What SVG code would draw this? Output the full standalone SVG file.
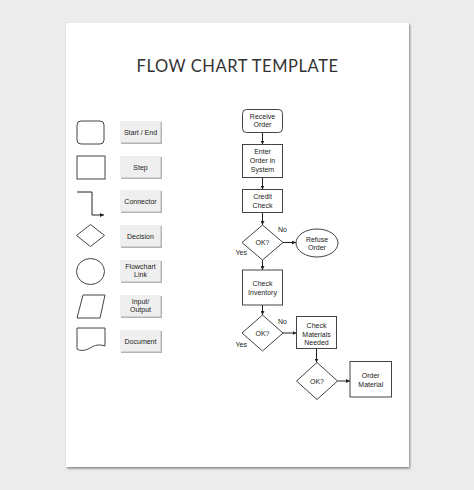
<svg xmlns="http://www.w3.org/2000/svg" width="474" height="490" viewBox="0 0 474 490">
<defs>
<marker id="arr" viewBox="0 0 6 6" refX="6" refY="3" markerWidth="4" markerHeight="4" markerUnits="userSpaceOnUse" orient="auto">
<path d="M0,0 L6,3 L0,6 Z" fill="#222"/>
</marker>
<filter id="sh" x="-5%" y="-5%" width="110%" height="110%">
<feDropShadow dx="1" dy="1.5" stdDeviation="1" flood-color="#555" flood-opacity="0.7"/>
</filter>
</defs>
<style>
.shape{fill:#fff;stroke:#444;stroke-width:1}
.lbl{fill:#efefef}
.lsh{fill:#b4b4b4}
.t{font-family:"Liberation Sans",Arial,sans-serif;font-size:7px;fill:#222;text-anchor:middle}
.tl{font-family:"Liberation Sans",Arial,sans-serif;font-size:7px;fill:#222}
.ln{stroke:#222;stroke-width:1;fill:none}
.title{font-family:Lato,"Open Sans",sans-serif;font-size:16.5px;fill:#333;text-anchor:middle;letter-spacing:1.5px}
</style>
<rect x="0" y="0" width="474" height="490" fill="#ececec"/>
<rect id="page" x="66" y="23" width="343" height="444" fill="#fff" filter="url(#sh)"/>
<text class="title" x="238" y="72" textLength="203" lengthAdjust="spacing">FLOW CHART TEMPLATE</text>

<g id="legend">
<g id="leg-startend">
<rect class="shape" x="77" y="121" width="27" height="23" rx="4"/>
<rect class="lsh" x="121" y="122" width="41" height="22"/>
<rect class="lbl" x="120" y="121" width="40.5" height="21.5"/>
<text class="t" x="140.5" y="134.5">Start / End</text>
</g>
<g id="leg-step">
<rect class="shape" x="77" y="156" width="28" height="23"/>
<rect class="lsh" x="121" y="157" width="41" height="22"/>
<rect class="lbl" x="120" y="156" width="40.5" height="21.5"/>
<text class="t" x="140.5" y="169.5">Step</text>
</g>
<g id="leg-connector">
<path class="ln" d="M77,192 H92 V215 H104" marker-end="url(#arr)"/>
<rect class="lsh" x="121" y="191" width="41" height="22"/>
<rect class="lbl" x="120" y="190" width="40.5" height="21.5"/>
<text class="t" x="140.5" y="203.5">Connector</text>
</g>
<g id="leg-decision">
<polygon class="shape" points="76.5,235.5 90.5,224.5 104.5,235.5 90.5,246.5"/>
<rect class="lsh" x="121" y="226" width="41" height="22"/>
<rect class="lbl" x="120" y="225" width="40.5" height="21.5"/>
<text class="t" x="140.5" y="238.5">Decision</text>
</g>
<g id="leg-link">
<ellipse class="shape" cx="90.5" cy="271.5" rx="14" ry="13"/>
<rect class="lsh" x="121" y="261" width="41" height="22"/>
<rect class="lbl" x="120" y="260" width="40.5" height="21.5"/>
<text class="t" x="140.5" y="269">Flowchart</text>
<text class="t" x="140.5" y="277">Link</text>
</g>
<g id="leg-io">
<polygon class="shape" points="83,295 105,295 100,318 77,318"/>
<rect class="lsh" x="121" y="296" width="41" height="22"/>
<rect class="lbl" x="120" y="295" width="40.5" height="21.5"/>
<text class="t" x="140.5" y="304">Input/</text>
<text class="t" x="140.5" y="312">Output</text>
</g>
<g id="leg-document">
<path class="shape" d="M77,328 H105 V346 C99,344 95,345 90,348 C85,351 80,351 77,349 Z"/>
<rect class="lsh" x="121" y="331" width="41" height="22"/>
<rect class="lbl" x="120" y="330" width="40.5" height="21.5"/>
<text class="t" x="140.5" y="343.5">Document</text>
</g>
</g>

<g id="connectors">
<line class="ln" x1="262.5" y1="132.5" x2="262.5" y2="144.5" marker-end="url(#arr)"/>
<line class="ln" x1="262.5" y1="177.5" x2="262.5" y2="189.5" marker-end="url(#arr)"/>
<line class="ln" x1="262.5" y1="212.5" x2="262.5" y2="225" marker-end="url(#arr)"/>
<line class="ln" x1="283" y1="242.5" x2="296" y2="242.5" marker-end="url(#arr)"/>
<line class="ln" x1="262.5" y1="260" x2="262.5" y2="270" marker-end="url(#arr)"/>
<line class="ln" x1="262.5" y1="305" x2="262.5" y2="315" marker-end="url(#arr)"/>
<line class="ln" x1="283" y1="333" x2="296.5" y2="333" marker-end="url(#arr)"/>
<line class="ln" x1="316.5" y1="348.5" x2="316.5" y2="362.5" marker-end="url(#arr)"/>
<line class="ln" x1="337.5" y1="381" x2="350" y2="381" marker-end="url(#arr)"/>
<text class="tl" x="278" y="231.5">No</text>
<text class="tl" x="235.5" y="255">Yes</text>
<text class="tl" x="278" y="324">No</text>
<text class="tl" x="235.5" y="346.5">Yes</text>
</g>

<g id="receive-order">
<rect class="shape" x="242.5" y="109.5" width="40" height="23" rx="4"/>
<text class="t" x="262.5" y="118.5">Receive</text>
<text class="t" x="262.5" y="127">Order</text>
</g>
<g id="enter-order">
<rect class="shape" x="242.5" y="144.5" width="40" height="33"/>
<text class="t" x="262.5" y="154">Enter</text>
<text class="t" x="262.5" y="162.5">Order in</text>
<text class="t" x="262.5" y="171.5">System</text>
</g>
<g id="credit-check">
<rect class="shape" x="242.5" y="189.5" width="40" height="23"/>
<text class="t" x="262.5" y="199">Credit</text>
<text class="t" x="262.5" y="207.5">Check</text>
</g>
<g id="ok1">
<polygon class="shape" points="242,242.5 262.5,225 283,242.5 262.5,260"/>
<text class="t" x="262.5" y="245">OK?</text>
</g>
<g id="refuse-order">
<ellipse class="shape" cx="317" cy="243" rx="21" ry="14"/>
<text class="t" x="317" y="241.5">Refuse</text>
<text class="t" x="317" y="249.5">Order</text>
</g>
<g id="check-inventory">
<rect class="shape" x="242.5" y="270" width="40" height="35"/>
<text class="t" x="262.5" y="286">Check</text>
<text class="t" x="262.5" y="294.5">Inventory</text>
</g>
<g id="ok2">
<polygon class="shape" points="242,333 262.5,315 283,333 262.5,351"/>
<text class="t" x="262.5" y="335.5">OK?</text>
</g>
<g id="check-materials">
<rect class="shape" x="296.5" y="316.5" width="40" height="32"/>
<text class="t" x="316.5" y="327.5">Check</text>
<text class="t" x="316.5" y="336.5">Materials</text>
<text class="t" x="316.5" y="345">Needed</text>
</g>
<g id="ok3">
<polygon class="shape" points="296.5,381 317,362.5 337.5,381 317,399.5"/>
<text class="t" x="317" y="383.5">OK?</text>
</g>
<g id="order-material">
<rect class="shape" x="350" y="361.5" width="41.5" height="35.5"/>
<text class="t" x="370.75" y="377.5">Order</text>
<text class="t" x="370.75" y="386.5">Material</text>
</g>
</svg>
